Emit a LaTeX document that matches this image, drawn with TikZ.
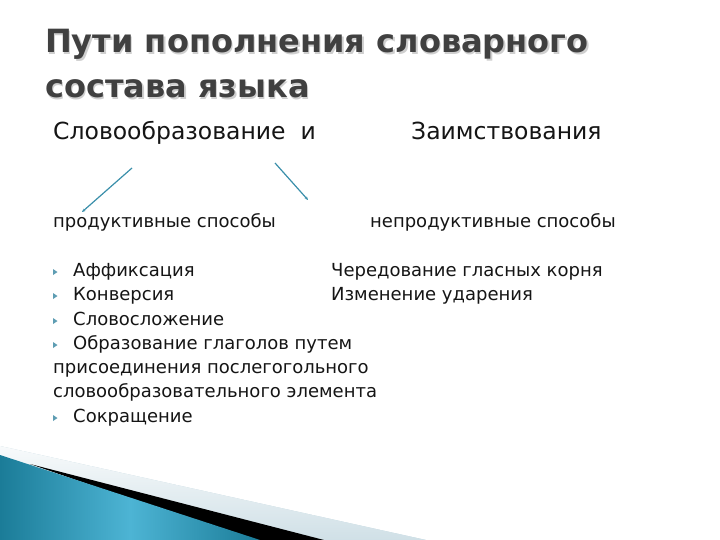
\documentclass[tikz,border=0pt]{standalone}
\usepackage{fontspec}
\setmainfont{DejaVu Sans}
\usetikzlibrary{arrows.meta}
\definecolor{titlegray}{HTML}{404040}
\definecolor{shadowgray}{HTML}{CFCFCF}
\definecolor{bodyink}{HTML}{151515}
\definecolor{tealline}{HTML}{3A8FAA}
\definecolor{tealdark}{HTML}{1B7C98}
\definecolor{teallight}{HTML}{4DB4D4}
\definecolor{paleband}{HTML}{BFD5DE}
\definecolor{bulletteal}{HTML}{5E9DB3}
\tikzset{
  titletext/.style={anchor=base west, inner sep=0pt, text=titlegray, font=\fontsize{32}{32}\selectfont\bfseries},
  titleshadow/.style={anchor=base west, inner sep=0pt, text=shadowgray, font=\fontsize{32}{32}\selectfont\bfseries},
  headtext/.style={anchor=base west, inner sep=0pt, text=bodyink, font=\fontsize{23.5}{23.5}\selectfont},
  bodytext/.style={anchor=base west, inner sep=0pt, text=bodyink, font=\fontsize{18}{18}\selectfont},
  bulletmark/.style={fill=bulletteal},
  linkarrow/.style={draw=tealline, line width=1.2pt, -{Stealth[length=3.5pt,width=3pt]}},
}
\begin{document}
\begin{tikzpicture}[x=1pt,y=-1pt]
\useasboundingbox (0,0) rectangle (720,540);
\fill[white] (0,0) rectangle (720,540);

% bottom-left decoration
\begin{scope}
  \clip (0,446) -- (426,540) -- (0,540) -- cycle;
  \fill[paleband] (0,446) -- (426,540) -- (0,540) -- cycle;
  \begin{scope}[rotate around={-12.5:(0,446)}]
    \shade[top color=white, bottom color=paleband] (-50,440) rectangle (500,472);
  \end{scope}
\end{scope}
\fill[black] (30,464) -- (324,540) -- (250,540) -- cycle;
\shade[left color=tealdark, right color=tealdark, middle color=teallight] (0,455) -- (260,540) -- (0,540) -- cycle;

% title
\node[titleshadow] at (46.5,55) {Пути пополнения словарного};
\node[titleshadow] at (46.5,100) {состава языка};
\node[titletext] (t1) at (45,53) {Пути пополнения словарного};
\node[titletext] (t2) at (45,98) {состава языка};

% headings
\node[headtext] (slovo) at (53,140) {Словообразование\ \ и};
\node[headtext] (zaim) at (411,140) {Заимствования};

% arrows
\coordinate (a1s) at (132,168);
\coordinate (a1e) at (82,212);
\coordinate (a2s) at (275,163);
\coordinate (a2e) at (308,200);
\draw[linkarrow] (a1s) -- (a1e);
\draw[linkarrow] (a2s) -- (a2e);

% subheadings
\node[bodytext] (prod) at (53,228) {продуктивные способы};
\node[bodytext] (neprod) at (370,228) {непродуктивные способы};

% left list
\node[bodytext] (l1) at (73,276) {Аффиксация};
\node[bodytext] (l2) at (73,300) {Конверсия};
\node[bodytext] (l3) at (73,325) {Словосложение};
\node[bodytext] (l4) at (73,349) {Образование глаголов путем};
\node[bodytext] (l5) at (53,373) {присоединения послегогольного};
\node[bodytext] (l6) at (53,397) {словообразовательного элемента};
\node[bodytext] (l7) at (73,422) {Сокращение};

\foreach \b in {276,300,325,349,422}{
  \fill[bulletmark] (53,\b-7) -- (53,\b-1) -- (57.5,\b-4) -- cycle;
}

% right list
\node[bodytext] (r1) at (331,276) {Чередование гласных корня};
\node[bodytext] (r2) at (331,300) {Изменение ударения};
\end{tikzpicture}
\end{document}
